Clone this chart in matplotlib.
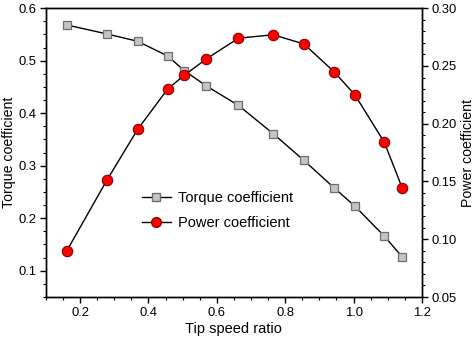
import matplotlib.pyplot as plt
from matplotlib.ticker import MultipleLocator
from matplotlib.lines import Line2D

plt.rcParams['font.family'] = ['Liberation Sans', 'DejaVu Sans']

# Data
tsr = [0.161, 0.278, 0.368, 0.456, 0.505, 0.569, 0.663, 0.765, 0.855, 0.943, 1.004, 1.090, 1.143]
torque = [0.568, 0.551, 0.537, 0.509, 0.481, 0.452, 0.415, 0.361, 0.310, 0.258, 0.223, 0.166, 0.126]
power = [0.090, 0.151, 0.195, 0.230, 0.242, 0.256, 0.274, 0.277, 0.269, 0.245, 0.225, 0.184, 0.144]

fig = plt.figure(figsize=(4.74, 3.41), dpi=100)
ax = fig.add_axes([0.097, 0.129, 0.793, 0.847])
ax2 = ax.twinx()

ax.plot(tsr, torque, color='black', lw=1.0, marker='s', ms=6.3,
        mfc='#c4c4c4', mec='#6e6e6e', mew=0.9, zorder=3)
ax2.plot(tsr, power, color='black', lw=1.0, marker='o', ms=7.5,
         mfc='#ff0000', mec='#8a0000', mew=0.8, zorder=3)

ax.set_xlim(0.1, 1.2)
ax.set_ylim(0.05, 0.6)
ax2.set_ylim(0.05, 0.30)

ax.xaxis.set_major_locator(MultipleLocator(0.2))
ax.xaxis.set_minor_locator(MultipleLocator(0.05))
ax.yaxis.set_major_locator(MultipleLocator(0.1))
ax.yaxis.set_minor_locator(MultipleLocator(0.025))
ax2.yaxis.set_major_locator(MultipleLocator(0.05))
ax2.yaxis.set_minor_locator(MultipleLocator(0.01))
ax2.yaxis.set_major_formatter(plt.FormatStrFormatter('%.2f'))

for a in (ax, ax2):
    a.tick_params(which='major', direction='out', length=4, width=1, labelsize=9.4, pad=3)
    a.tick_params(which='minor', direction='out', length=2.5, width=0.8)
    for s in a.spines.values():
        s.set_linewidth(1.0)

ax.set_xlabel('Tip speed ratio', fontsize=10.5, labelpad=2)
ax.set_ylabel('Torque coefficient', fontsize=10.2)
ax2.set_ylabel('Power coefficient', fontsize=10.2)
ax.yaxis.set_label_coords(-0.080, 0.5)
ax2.yaxis.set_label_coords(1.103, 0.5)

handles = [
    Line2D([], [], color='black', lw=1.0, marker='s', ms=5.5, mfc='#c4c4c4', mec='#6e6e6e'),
    Line2D([], [], color='black', lw=1.0, marker='o', ms=7, mfc='#ff0000', mec='#8a0000'),
]
ax.legend(handles, ['Torque coefficient', 'Power coefficient'], frameon=False,
          fontsize=10.5, loc='upper left', bbox_to_anchor=(0.22, 0.413),
          handlelength=2.0, handletextpad=0.5, labelspacing=0.75)

fig.savefig('out.png', dpi=100)
